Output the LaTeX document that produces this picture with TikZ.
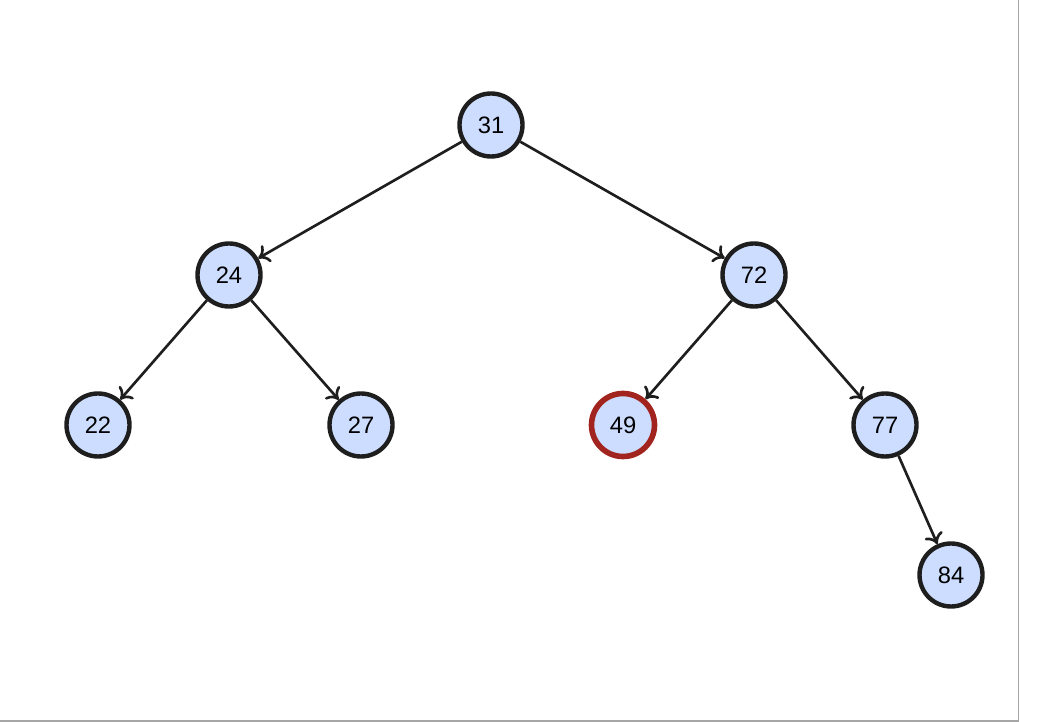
\documentclass[tikz,border=0pt]{standalone}
\usepackage{fontspec}
\setmainfont{Liberation Sans}
\usetikzlibrary{positioning,arrows.meta}
\definecolor{nodefill}{HTML}{CCDDFF}
\definecolor{nodeline}{HTML}{1E1E1E}
\definecolor{hitline}{HTML}{A1241F}
\tikzset{
  key/.style={circle, draw=nodeline, line width=2.5pt, fill=nodefill,
    minimum size=1.26cm, inner sep=0pt, font=\fontsize{13.5}{16}\selectfont},
  found/.style={key, draw=hitline, line width=3.2pt},
  link/.style={draw=nodeline, line width=1.5pt, -{To[length=6pt,width=11pt]}},
}
\begin{document}
\begin{tikzpicture}[node distance=3cm and 5.24cm, on grid]
        \useasboundingbox (0,0) rectangle (21.08,14.44);
        \draw[gray!70, line width=0.6pt] (20.37,0) -- (20.37,14.44);
        \draw[gray!70, line width=0.6pt] (0,0.02) -- (20.37,0.02);
        \node[key] (n31) at (9.82,11.94) {31};
        \node[key, below left=3cm and 5.24cm of n31] (n24) {24};
        \node[key, below right=3cm and 5.26cm of n31] (n72) {72};
        \node[key, below left=3cm and 2.62cm of n24] (n22) {22};
        \node[key, below right=3cm and 2.64cm of n24] (n27) {27};
        \node[found, below left=3cm and 2.62cm of n72] (n49) {49};
        \node[key, below right=3cm and 2.62cm of n72] (n77) {77};
        \node[key, below right=3cm and 1.32cm of n77] (n84) {84};
        \draw[link] (n31) -- (n24);
        \draw[link] (n31) -- (n72);
        \draw[link] (n24) -- (n22);
        \draw[link] (n24) -- (n27);
        \draw[link] (n72) -- (n49);
        \draw[link] (n72) -- (n77);
        \draw[link] (n77) -- (n84);
\end{tikzpicture}
\end{document}
